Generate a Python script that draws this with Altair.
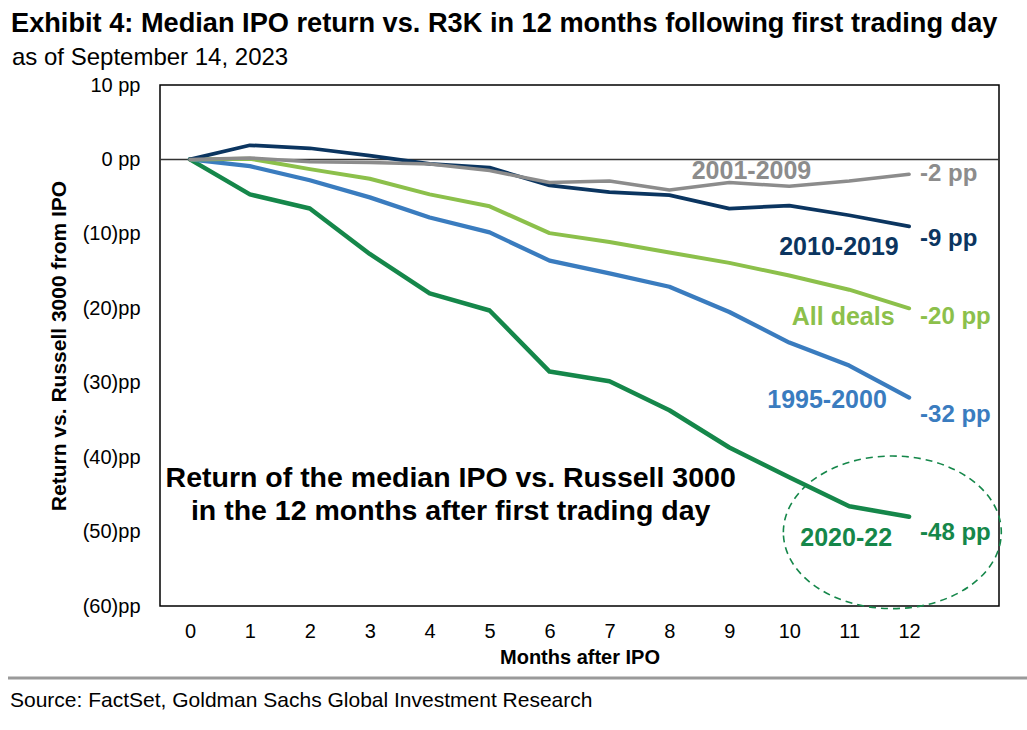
import altair as alt
import pandas as pd

# Months after the IPO (0 = first trading day)
months = list(range(13))

# Median IPO return vs. Russell 3000, in percentage points, by IPO cohort
series_names = ["2020-22", "1995-2000", "All deals", "2010-2019", "2001-2009"]
r_2020_22 = [0, -4.7, -6.6, -12.7, -18.0, -20.3, -28.5, -29.8, -33.7, -38.7, -42.7, -46.6, -48]
r_1995_2000 = [0, -0.9, -2.8, -5.1, -7.8, -9.8, -13.6, -15.3, -17.1, -20.5, -24.6, -27.7, -32]
r_all_deals = [0, 0.1, -1.3, -2.6, -4.7, -6.3, -9.9, -11.1, -12.5, -13.9, -15.6, -17.5, -20]
r_2010_2019 = [0, 1.9, 1.5, 0.5, -0.6, -1.1, -3.5, -4.4, -4.8, -6.6, -6.2, -7.5, -9]
r_2001_2009 = [0, 0.2, -0.3, -0.4, -0.6, -1.5, -3.1, -2.9, -4.1, -3.1, -3.6, -2.9, -2]
series_values = [r_2020_22, r_1995_2000, r_all_deals, r_2010_2019, r_2001_2009]

series_colors = ["#15874A", "#3A7CBF", "#8CC04B", "#0B3560", "#8C8C8C"]
series_widths = [4.5, 3.5, 3.5, 3.5, 3.5]

y_ticks = [10, 0, -10, -20, -30, -40, -50, -60]
x_ticks = months

FONT = "Liberation Sans"

rows = []
for name, vals in zip(series_names, series_values):
    for m, v in zip(months, vals):
        rows.append({"series": name, "month": m, "pp": v})
df = pd.DataFrame(rows)

x_scale = alt.Scale(domain=[-0.5, 13.5], nice=False, zero=False)
y_scale = alt.Scale(domain=[-60, 10], nice=False)
color_scale = alt.Scale(domain=series_names, range=series_colors)

x_enc = alt.X(
    "month:Q",
    scale=x_scale,
    axis=alt.Axis(
        values=x_ticks,
        format="d",
        title="Months after IPO",
        labelFontSize=20,
        labelFont=FONT,
        labelColor="#000000",
        labelPadding=15,
        titleFont=FONT,
        titleFontSize=20,
        titleFontWeight="bold",
        titleColor="#000000",
        titlePadding=6,
        ticks=False,
        domain=False,
        grid=False,
    ),
)
y_enc = alt.Y(
    "pp:Q",
    scale=y_scale,
    axis=alt.Axis(
        values=y_ticks,
        title="Return vs. Russell 3000 from IPO",
        labelExpr="datum.value > 0 ? datum.value + ' pp' : (datum.value == 0 ? '0 pp' : '(' + abs(datum.value) + ')pp')",
        labelFontSize=20,
        labelFont=FONT,
        labelColor="#000000",
        labelPadding=20,
        titleFont=FONT,
        titleFontSize=21,
        titleFontWeight="bold",
        titleColor="#000000",
        titlePadding=13,
        ticks=False,
        domain=False,
        grid=False,
    ),
)

zero_line = (
    alt.Chart(pd.DataFrame({"pp": [0]}))
    .mark_rule(color="#333333", strokeWidth=1.5)
    .encode(y=alt.Y("pp:Q", scale=y_scale))
)

lines = (
    alt.Chart(df)
    .mark_line(strokeJoin="round", strokeCap="round")
    .encode(
        x=x_enc,
        y=y_enc,
        color=alt.Color("series:N", scale=color_scale, legend=None),
        strokeWidth=alt.StrokeWidth(
            "series:N",
            scale=alt.Scale(domain=series_names, range=series_widths),
            legend=None,
        ),
        order=alt.Order("month:Q"),
    )
)

# Series names placed beside each line
name_labels = pd.DataFrame(
    {
        "label": ["2001-2009", "2010-2019", "All deals", "1995-2000", "2020-22"],
        "month": [9.37, 10.83, 10.9, 10.63, 10.95],
        "pp": [-1.6, -11.8, -21.2, -32.3, -50.8],
        "series": ["2001-2009", "2010-2019", "All deals", "1995-2000", "2020-22"],
    }
)
names = (
    alt.Chart(name_labels)
    .mark_text(font=FONT, fontSize=25, fontWeight="bold", align="center", baseline="middle")
    .encode(
        x=alt.X("month:Q", scale=x_scale),
        y=alt.Y("pp:Q", scale=y_scale),
        text="label:N",
        color=alt.Color("series:N", scale=color_scale, legend=None),
    )
)

# End-of-period values, written from the month-12 data point of each series
end_offsets = {"2001-2009": 0, "2010-2019": 13, "All deals": 9, "1995-2000": 17, "2020-22": 16}
end_rows = []
for name, vals in zip(series_names, series_values):
    end_rows.append({"series": name, "month": months[-1], "pp": vals[-1], "label": f"{vals[-1]:.0f} pp"})
end_df = pd.DataFrame(end_rows)
end_layers = []
for name in series_names:
    end_layers.append(
        alt.Chart(end_df[end_df["series"] == name])
        .mark_text(font=FONT, fontSize=24, fontWeight="bold", align="left", baseline="middle",
                   dx=11, dy=int(end_offsets[name]))
        .encode(
            x=alt.X("month:Q", scale=x_scale),
            y=alt.Y("pp:Q", scale=y_scale),
            text="label:N",
            color=alt.Color("series:N", scale=color_scale, legend=None),
        )
    )

# Centre annotation
note = (
    alt.Chart(pd.DataFrame({"month": [4.35], "pp": [-42.8],
                            "txt": ["Return of the median IPO vs. Russell 3000\nin the 12 months after first trading day"]}))
    .mark_text(font=FONT, fontSize=28.5, fontWeight="bold", align="center", baseline="middle",
               lineBreak="\n", lineHeight=33, color="#000000")
    .encode(x=alt.X("month:Q", scale=x_scale), y=alt.Y("pp:Q", scale=y_scale), text="txt:N")
)

# Dashed ellipse around the 2020-22 end point
ellipse = (
    alt.Chart(pd.DataFrame({"month": [11.72], "pp": [-50.1]}))
    .mark_point(
        shape="M -1 0 A 1 0.7 0 1 1 1 0 A 1 0.7 0 1 1 -1 0 Z",
        size=47500,
        filled=False,
        stroke="#15874A",
        strokeWidth=1.6,
        strokeDash=[7, 5],
        opacity=1,
    )
    .encode(x=alt.X("month:Q", scale=x_scale), y=alt.Y("pp:Q", scale=y_scale))
)

# Header, footer and separator drawn in pixel space around the plot
dummy = pd.DataFrame({"k": [0]})
title = alt.Chart(dummy).mark_text(
    text="Exhibit 4: Median IPO return vs. R3K in 12 months following first trading day",
    font=FONT, fontSize=27.2, fontWeight="bold", align="left", baseline="alphabetic", color="#000000",
).encode(x=alt.value(-149), y=alt.value(-53))
subtitle = alt.Chart(dummy).mark_text(
    text="as of September 14, 2023",
    font=FONT, fontSize=24, align="left", baseline="alphabetic", color="#000000",
).encode(x=alt.value(-148), y=alt.value(-20))
separator = alt.Chart(dummy).mark_rule(color="#9A9A9A", strokeWidth=3).encode(
    x=alt.value(-152), x2=alt.value(867), y=alt.value(593)
)
source = alt.Chart(dummy).mark_text(
    text="Source: FactSet, Goldman Sachs Global Investment Research",
    font=FONT, fontSize=21, align="left", baseline="alphabetic", color="#000000",
).encode(x=alt.value(-150), y=alt.value(622))

chart = (
    alt.layer(zero_line, lines, names, *end_layers, note, ellipse, title, subtitle, separator, source)
    .properties(
        width=839,
        height=521,
        autosize=alt.AutoSizeParams(type="none"),
        padding={"left": 160, "top": 85, "right": 28, "bottom": 124},
        background="#FFFFFF",
    )
    .configure_view(stroke="#000000", strokeWidth=1.5)
)

chart.save("out.html", embed_options={"renderer": "svg", "actions": False})
